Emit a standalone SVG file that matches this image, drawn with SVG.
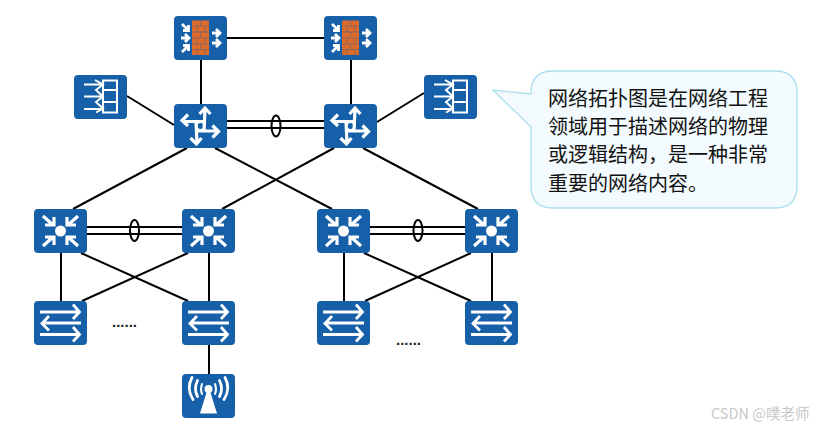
<svg xmlns="http://www.w3.org/2000/svg" width="822" height="430" viewBox="0 0 822 430">
<style>
.box{fill:#1560a8}
.w{fill:none;stroke:#fff;stroke-width:2;stroke-linejoin:miter}
.w2{fill:none;stroke:#fff;stroke-width:2.800;stroke-linejoin:miter}
.w3{fill:none;stroke:#fff;stroke-width:3.200;stroke-linejoin:miter}
.wf{fill:#fff}
.link{fill:none;stroke:#000;stroke-width:2}
.cjk{font-family:"Noto Sans CJK SC",sans-serif}
.tip{font-size:20px;fill:#111}
.dots{font-family:"Liberation Sans",sans-serif;font-size:15px;font-weight:bold;fill:#222}
</style>
<defs>
<symbol id="fw" width="53" height="44" viewBox="0 0 53 44" overflow="visible">
<rect class="box" width="53" height="44" rx="4"/>
<rect x="18" y="4.500" width="17" height="34.500" fill="#dc6a2a"/>
<path d="M18 10h17M18 16h17M18 22h17M18 28h17M18 33.500h17M26.500 4.500v5.500M23 10v6M31 10v6M26.500 16v6M23 22v6M31 22v6M26.500 28v5.500M23 33.500v5.500M31 33.500v5.500" stroke="#1560a8" stroke-opacity=".45" stroke-width=".8" fill="none"/>
<path class="w2" d="M8 8l6 6M14.500 9v5.500H9M7 22h7M11 18l4 4-4 4M8 36l6-6M9 29.500h5.500V35M38 17h7M42 13l4 4-4 4M38 27h7M42 23l4 4-4 4"/>
</symbol>
<symbol id="lb" width="53" height="44" viewBox="0 0 53 44" overflow="visible">
<rect class="box" width="53" height="44" rx="4"/>
<path class="w" d="M29 5.500h14v32H29zM10 9.500h19M10 21.500h19M10 34h19M21 5l8 4.500-7 5.500 7 6.500-7 5.500 7 6.500-7 4M29 15h14M29 27h14"/>
</symbol>
<symbol id="rt" width="53" height="44" viewBox="0 0 53 44" overflow="visible">
<rect class="box" width="53" height="44" rx="4"/>
<circle cx="26.500" cy="22" r="4" fill="none" stroke="#fff" stroke-width="2"/>
<path class="w3" d="M30 27L31 5M25.500 10l5.500-6 5.500 6M22 18L23 39M16.500 34l6 6 5-6M29 17.500H10M14 10.500l-6 6 6 5.500M23 27H43M38.500 21.500l6 6-6 6"/>
</symbol>
<symbol id="sw" width="53" height="44" viewBox="0 0 53 44" overflow="visible">
<rect class="box" width="53" height="44" rx="4"/>
<circle cx="26.500" cy="22" r="5.500" class="wf"/>
<path class="w3" d="M9 7l10 9M11 16h9V8M44 7l-10 9M42 16h-9V8M9 37l10-9M11 28h9v8M44 37l-10-9M42 28h-9v8"/>
</symbol>
<symbol id="ac" width="53" height="44" viewBox="0 0 53 44" overflow="visible">
<rect class="box" width="53" height="44" rx="4"/>
<path class="w2" d="M6 11h39M39 3.500l6.500 7.500-6.500 7M47 22H8M15 15l-7 7.500 7 7M6 33.500h39M39 26l6.500 7.500-6.500 7"/>
</symbol>
<symbol id="ap" width="53" height="44" viewBox="0 0 53 44" overflow="visible">
<rect class="box" width="53" height="44" rx="4"/>
<circle cx="26.500" cy="15" r="4" class="wf"/>
<path class="wf" d="M25 17h3l7 22.500H18z"/>
<path class="w" stroke-linecap="round" d="M20 10q-2 5 0 10M33 10q2 5 0 10"/>
<path class="w2" stroke-linecap="round" d="M15.500 6.500q-4 8.500 0 16M37.500 6.500q4 8.500 0 16M10 3.500q-6 11 1 22M43 3.500q6 11-1 22"/>
</symbol>
</defs>
<rect width="822" height="430" fill="#fff"/>
<g id="connectors">
<path class="link" d="M227 38H324M201 59V104M351 59V104M227 121H324M227 128H324M87 227H182M87 234H182M370 227H465M370 234H465M61 253V301M209 253V301M344 253V301M492 253V301M209 345V374"/>
<path class="link" d="M127 96L174 125M424 93L377 122M187 148L73 209M215 148L332 209M334 148L222 209M363 148L478 209M81 253L188 301M188 253L82 301M364 253L471 301M471 253L365 301"/>
<ellipse class="link" cx="276" cy="126" rx="4.500" ry="10.500"/>
<ellipse class="link" cx="134.500" cy="230.500" rx="4.500" ry="10.500"/>
<ellipse class="link" cx="418" cy="230.500" rx="4.500" ry="10.500"/>
</g>
<g id="fw1"><use href="#fw" x="174" y="16"/></g>
<g id="fw2"><use href="#fw" x="324" y="16"/></g>
<g id="lb1"><use href="#lb" x="74" y="75"/></g>
<g id="lb2"><use href="#lb" x="424" y="75"/></g>
<g id="rt1"><use href="#rt" x="174" y="104"/></g>
<g id="rt2"><use href="#rt" x="324" y="104"/></g>
<g id="sw1"><use href="#sw" x="34" y="209"/></g>
<g id="sw2"><use href="#sw" x="182" y="209"/></g>
<g id="sw3"><use href="#sw" x="317" y="209"/></g>
<g id="sw4"><use href="#sw" x="465" y="209"/></g>
<g id="ac1"><use href="#ac" x="34" y="301"/></g>
<g id="ac2"><use href="#ac" x="182" y="301"/></g>
<g id="ac3"><use href="#ac" x="317" y="301"/></g>
<g id="ac4"><use href="#ac" x="465" y="301"/></g>
<g id="ap1"><use href="#ap" x="182" y="374"/></g>
<text x="112" y="327" class="dots">......</text>
<text x="396" y="345" class="dots">......</text>
<g id="callout">
<path d="M553 71H775Q797 71 797 93V186Q797 208 775 208H553Q531 208 531 186V127L493 90L531 94V93Q531 71 553 71Z" fill="#f3fbfe" stroke="#a9dfeb" stroke-width="1.300"/>
<g class="cjk tip">
<text x="548" y="106">网络拓扑图是在网络工程</text>
<text x="548" y="134">领域用于描述网络的物理</text>
<text x="548" y="162">或逻辑结构，是一种非常</text>
<text x="548" y="191">重要的网络内容。</text>
</g>
</g>
<text x="711" y="419" class="cjk" font-size="14.500" fill="#c8c8c8">CSDN @噗老师</text>
</svg>
